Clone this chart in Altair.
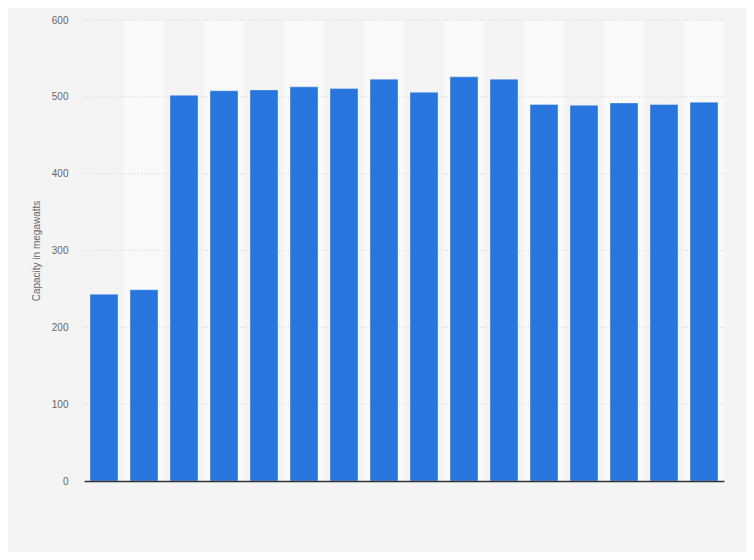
import altair as alt
import pandas as pd

categories = [str(y) for y in range(2005, 2021)]
capacity = [243, 249, 502, 508, 509, 513, 511, 523, 506, 526, 523, 490, 489, 492, 490, 493]
y_ticks = [0, 100, 200, 300, 400, 500, 600]

df = pd.DataFrame({"cat": categories, "value": capacity})
stripes = pd.DataFrame({"cat": categories[1::2], "top": [600] * len(categories[1::2])})
grid = pd.DataFrame({"v": y_ticks[1:]})

xscale = alt.Scale(domain=categories, paddingInner=0, paddingOuter=0)
yscale = alt.Scale(domain=[0, 600], nice=False)

stripe_layer = alt.Chart(stripes).mark_rect(color="#f9f9f9").encode(
    x=alt.X("cat:N", scale=xscale, sort=categories,
            axis=alt.Axis(labels=False, ticks=False, title=None, domainColor="#333333",
                          domainWidth=1.5, grid=False)),
    y=alt.Y("top:Q", scale=yscale,
            axis=alt.Axis(values=y_ticks, title="Capacity in megawatts", domain=False, ticks=False,
                          grid=False,
                          labelColor="#666666", labelFontSize=10, labelFont="Arial, Liberation Sans",
                          labelPadding=16, titleColor="#666666", titleFontSize=10,
                          titleFont="Arial, Liberation Sans", titleFontWeight="normal",
                          titlePadding=10)),
    y2=alt.datum(0),
)

grid_layer = alt.Chart(grid).mark_rule(color="#d2d2d2", strokeDash=[1, 2], strokeWidth=1).encode(
    y=alt.Y("v:Q", scale=yscale),
)

bars = alt.Chart(df).mark_bar(width={"band": 0.7}, color="#2876dd",
                              stroke="#ffffff", strokeOpacity=0.35, strokeWidth=1).encode(
    x=alt.X("cat:N", scale=xscale, sort=categories),
    y=alt.Y("value:Q", scale=yscale),
)

chart = alt.layer(stripe_layer, grid_layer, bars).properties(
    width=640, height=461,
    autosize=alt.AutoSizeParams(type="none"),
    padding={"left": 76, "top": 12, "right": 22, "bottom": 71},
    background="#f4f4f4",
).configure_view(stroke=None)

chart.save("out.html", embed_options={"renderer": "svg", "actions": False})
